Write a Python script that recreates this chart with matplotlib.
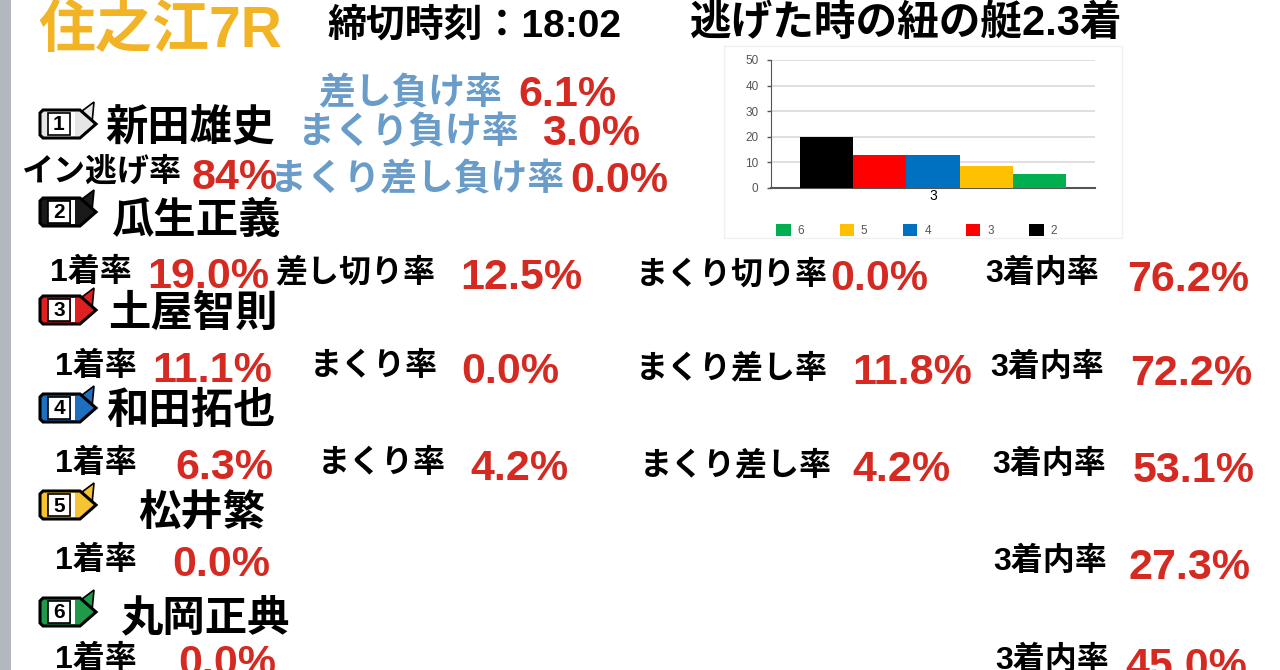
import matplotlib
matplotlib.use("Agg")
import matplotlib.pyplot as plt
from matplotlib.patches import Polygon, Rectangle

plt.rcParams['font.family'] = ['Liberation Sans', 'Noto Sans CJK JP', 'DejaVu Sans']

# ---- data ----
venue = "住之江7R"
deadline = "締切時刻：18:02"
chart_title = "逃げた時の紐の艇2.3着"

lanes = [1, 2, 3, 4, 5, 6]
names = ["新田雄史", "瓜生正義", "土屋智則", "和田拓也", "松井繁", "丸岡正典"]

in_nige_rate = 84
lose_labels = ["差し負け率", "まくり負け率", "まくり差し負け率"]
lose_rates = [6.1, 3.0, 0.0]

# lanes 2-6
win_rate = [19.0, 11.1, 6.3, 0.0, 0.0]
mid_labels = ["差し切り率", "まくり率", "まくり率"]
mid_rates = [12.5, 0.0, 4.2]
right_labels = ["まくり切り率", "まくり差し率", "まくり差し率"]
right_rates = [0.0, 11.8, 4.2]
top3_rate = [76.2, 72.2, 53.1, 27.3, 45.0]

# bar chart: boat that finishes 2nd/3rd when lane 1 escapes
bar_boats = ["2", "3", "4", "5", "6"]
bar_values = [20, 13, 13, 8.5, 5.5]
bar_category = "3"

# ---- styles ----
RED = "#d42a22"
BLUE = "#6a9cc9"
GOLD = "#f2b324"
LANE_COLORS = {1: "#e6e6e6", 2: "#1a1a1a", 3: "#e02020", 4: "#1f6fc0", 5: "#f6c334", 6: "#1f9a4a"}
BAR_COLORS = {"2": "#000000", "3": "#ff0000", "4": "#0070c0", "5": "#ffc000", "6": "#00b050"}

W, H = 1280, 670
fig = plt.figure(figsize=(W / 100, H / 100), dpi=100)
fig.patch.set_facecolor("white")
ax = fig.add_axes([0, 0, 1, 1])
ax.set_xlim(0, W)
ax.set_ylim(H, 0)
ax.axis("off")

# gray strip on the left edge
ax.add_patch(Rectangle((0, 0), 11, H, color="#b3b7bf", lw=0))
# faint frame of the chart panel
ax.add_patch(Rectangle((724, 46), 398, 192, fill=False, ec="#f0f0f0", lw=1))


def put(x, y, s, size, color="black", ha="left"):
    ax.text(x, y, s, fontsize=size, color=color, ha=ha, va="center", fontweight="bold")


def pct(v):
    return "{:.1f}%".format(v)


def boat_icon(x0, yc, lane):
    c = LANE_COLORS[lane]
    h = 28
    top, bot = yc - h / 2, yc + h / 2
    body = [(x0 + 3, top), (x0 + 40, top), (x0 + 56, yc), (x0 + 40, bot), (x0 + 3, bot),
            (x0, bot - 3), (x0, top + 3)]
    ax.add_patch(Polygon(body, closed=True, fc=c, ec="black", lw=2.2, zorder=3))
    flag = [(x0 + 42, top + 1), (x0 + 54, top - 8), (x0 + 52, yc - 1)]
    ax.add_patch(Polygon(flag, closed=True, fc=c, ec="black", lw=1.2, zorder=2))
    ax.add_patch(Rectangle((x0 + 8, top + 3), 22, h - 6, fc="white", ec="black", lw=1.2, zorder=4))
    ax.add_patch(Rectangle((x0 + 31, top + 2), 4, h - 4, fc="white", lw=0, zorder=4))
    ax.text(x0 + 19, yc + 1, str(lane), fontsize=15, fontweight="bold", ha="center", va="center",
            color="black", zorder=5)


# header
put(38, 32, venue, 41, GOLD)
put(328, 26, deadline, 28)
put(690, 24, chart_title, 30)

# lane 1 block
lose_x = [(318, 518), (298, 542), (270, 570)]
lose_y = [95, 134, 181]
for (lx, vx), y, lab, val in zip(lose_x, lose_y, lose_labels, lose_rates):
    put(lx, y, lab, 26.5, BLUE)
    put(vx, y, pct(val), 31, RED)

put(22, 172, "イン逃げ率", 23)
put(192, 178, "{}%".format(in_nige_rate), 31, RED)

# icons and names
icon_y = [124, 212, 310, 408, 505, 612]
name_x = [105, 112, 108, 106, 138, 120]
name_y = [128, 222, 315, 412, 515, 620]
for lane, nm, iy, nx, ny in zip(lanes, names, icon_y, name_x, name_y):
    boat_icon(40, iy, lane)
    put(nx, ny, nm, 30.5)

# stat rows for lanes 2-6
row_y = [273, 367, 464, 561, 660]
win_lab_x = [50, 55, 55, 55, 55]
win_val_x = [147, 152, 175, 172, 178]
mid_lab_x = [275, 310, 318]
mid_val_x = [460, 461, 470]
right_lab_x = [636, 636, 640]
right_val_x = [830, 852, 852]
top3_lab_x = [985, 990, 992, 993, 995]
top3_val_x = [1127, 1130, 1133, 1128, 1125]

for i, y in enumerate(row_y):
    put(win_lab_x[i], y, "1着率", 23)
    put(win_val_x[i], y + 4, pct(win_rate[i]), 31, RED)
    if i < len(mid_rates):
        put(mid_lab_x[i], y, mid_labels[i], 23)
        put(mid_val_x[i], y + 5, pct(mid_rates[i]), 31, RED)
        put(right_lab_x[i], y + 2, right_labels[i], 23)
        put(right_val_x[i], y + 6, pct(right_rates[i]), 31, RED)
    put(top3_lab_x[i], y + 1, "3着内率", 23)
    put(top3_val_x[i], y + 7, pct(top3_rate[i]), 31, RED)

# ---- bar chart ----
px_l, px_r, px_t, px_b = 771, 1095, 60, 188
bx = fig.add_axes([px_l / W, 1 - px_b / H, (px_r - px_l) / W, (px_b - px_t) / H])
bw = 0.1636
for i, (b, v) in enumerate(zip(bar_boats, bar_values)):
    bx.bar((i - 2) * bw, v, width=bw, color=BAR_COLORS[b], label=b, zorder=3)
bx.set_xlim(-0.5, 0.5)
bx.set_ylim(0, 50)
bx.set_yticks([0, 10, 20, 30, 40, 50])
bx.set_xticks([0])
bx.set_xticklabels([bar_category], fontsize=10)
bx.tick_params(axis="y", labelsize=8.5, colors="#555555", length=3, width=1, pad=6)
bx.tick_params(axis="x", length=0, pad=1)
bx.yaxis.grid(True, color="#d9d9d9", lw=1.2, zorder=0)
bx.spines["top"].set_visible(False)
bx.spines["right"].set_visible(False)
bx.spines["left"].set_color("#555555")
bx.spines["bottom"].set_color("#555555")
bx.spines["bottom"].set_linewidth(1.5)
bx.set_facecolor("none")
handles, labels = bx.get_legend_handles_labels()
leg = bx.legend(handles[::-1], labels[::-1], ncol=5, loc="upper center",
                bbox_to_anchor=(0.45, -0.2), frameon=False, fontsize=8.5,
                handlelength=1.2, handleheight=1.2, columnspacing=3.0, handletextpad=0.6)
for t in leg.get_texts():
    t.set_color("#555555")

fig.savefig("out.png", dpi=100)
